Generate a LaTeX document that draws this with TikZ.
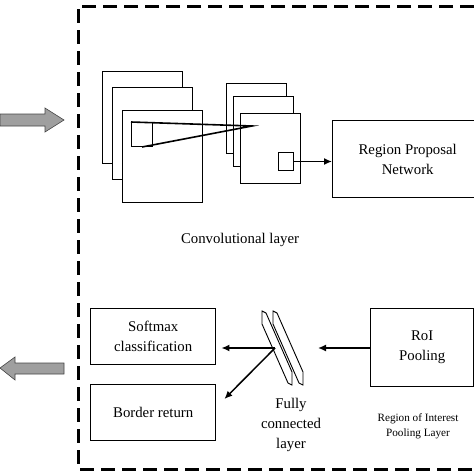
\documentclass[tikz,border=0pt]{standalone}
\usepackage{fontspec}
\setmainfont{Liberation Serif}
\usetikzlibrary{positioning}
\usetikzlibrary{arrows}
\usetikzlibrary{arrows.meta}
\tikzset{>=latex}
\tikzstyle{fmap} = [draw, fill=white, line width=1pt, anchor=north west, inner sep=0]
\tikzstyle{block} = [draw, line width=1.4pt, anchor=north west, align=center, inner sep=0, font=\fontsize{14.8}{20}\selectfont]
\tikzstyle{lbl} = [align=center, inner sep=0, font=\fontsize{14.8}{20}\selectfont]
\tikzstyle{bigarrow} = [fill=gray!75, draw=gray!55!black, line width=0.6pt]
\tikzstyle{conn} = [-{Latex[length=8pt,width=7pt]}, line width=1.5pt]

\begin{document}
\begin{tikzpicture}[x=1pt, y=-1pt]
\useasboundingbox (0,0) rectangle (474,474);
% dashed frame
\draw [line width=3pt, dash pattern=on 14pt off 7pt] (495,6) -- (78,6) -- (78,469) -- (495,469);
% input and output arrows
\draw [bigarrow] (0,114) -- (45,114) -- (45,108) -- (64,120) -- (45,132) -- (45,126) -- (0,126) -- cycle;
\draw [bigarrow] (64,363) -- (15,363) -- (15,357) -- (0,368) -- (15,380) -- (15,374) -- (64,374) -- cycle;

% convolutional layer
\node [fmap, minimum width=80pt, minimum height=92pt] (A1) at (102,71) {};
\node [fmap, minimum width=80pt, minimum height=92pt] (A2) at (112,87) {};
\node [fmap, minimum width=80pt, minimum height=92pt] (A3) at (122,110) {};
\node [fmap, minimum width=21pt, minimum height=24pt] (sqA) at (131,122) {};
\node [fmap, minimum width=60pt, minimum height=70pt] (B1) at (226,83) {};
\node [fmap, minimum width=60pt, minimum height=70pt] (B2) at (233,96) {};
\node [fmap, minimum width=60pt, minimum height=70pt] (B3) at (240,113) {};
\node [fmap, minimum width=15pt, minimum height=18pt] (sqB) at (278,152) {};
\coordinate (apex) at (252,126);
\draw [line width=1.6pt] (sqA.north west) -- (apex) -- (sqA.south);
\node [lbl] (conv) at (240,240) {Convolutional layer};

\node [block, minimum width=150pt, minimum height=77pt] (rpn) at (332,120) {Region Proposal\\Network};
\draw [conn] (sqB.east) -- (sqB.east -| rpn.west);

% detection part
\node [block, minimum width=125pt, minimum height=56pt] (soft) at (90,308) {Softmax\\classification};
\node [block, minimum width=125pt, minimum height=56pt] (border) at (90,384) {Border return};
\node [block, minimum width=103pt, minimum height=78pt] (roi) at (370,308) {RoI\\Pooling};

\foreach \dx in {0,11}
  \draw [line width=0.9pt, fill=white] (262+\dx,311) -- (266+\dx,313) -- (292+\dx,372) -- (292+\dx,385) -- (288+\dx,383) -- (262+\dx,324) -- cycle;
\coordinate (fc) at (275,348);
\draw [conn] (fc) -- ([xshift=5pt]soft.east |- fc);
\draw [conn] (fc) -- ([shift={(8,15)}]border.north east);
\draw [conn] (roi.west |- fc) -- ++(-52,0);

\node [lbl] (fclabel) at (291,425) {Fully\\connected\\layer};
\node [align=center, inner sep=0, font=\fontsize{11.2}{15}\selectfont] (roilabel) at (418,426) {Region of Interest\\Pooling Layer};
\end{tikzpicture}
\end{document}
